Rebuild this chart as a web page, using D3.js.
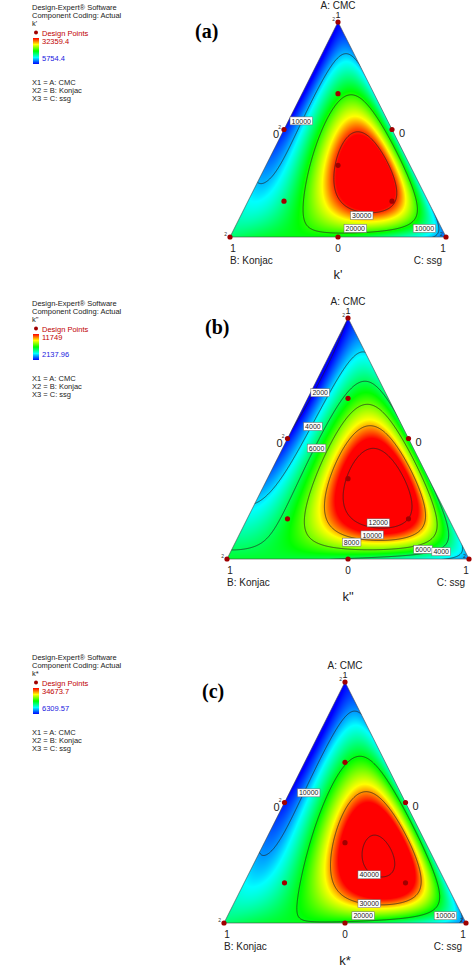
<!DOCTYPE html>
<html><head><meta charset="utf-8">
<script src="https://cdn.jsdelivr.net/npm/d3@7/dist/d3.min.js"></script>
<style>body{margin:0;background:#fff}svg{display:block}</style>
</head><body>
<script>
// panel names and response labels
var panelTags = ["(a)", "(b)", "(c)"];
var responseNames = ["k'", "k\"", "k*"];
var legendMax = ["32359.4", "11749", "34673.7"];
var legendMin = ["5754.4", "2137.96", "6309.57"];
var colorMin = [5754.4, 2137.96, 6309.57];
var colorMax = [32359.4, 11749, 34673.7];
// design points [A, B, C]
var designPts = [[1,0,0],[0,1,0],[0,0,1],[0.5,0.5,0],[0.5,0,0.5],[0,0.5,0.5],
  [2/3,1/6,1/6],[1/6,2/3,1/6],[1/6,1/6,2/3],[1/3,1/3,1/3]];
var replicated = [[1,0,0],[0,1,0],[0,0,1],[0.5,0.5,0]];
// response estimated at each design point (read from the colours)
var respA = [5754, 16000, 8000, 6500, 13000, 18000, 18000, 15000, 30500, 31500];
var respB = [2138, 6500, 3300, 2300, 6300, 5800, 6500, 6500, 11800, 12400];
var respC = [6310, 17000, 9000, 7000, 15000, 19000, 19500, 16000, 35500, 35000];
var contourLevels = [[10000, 20000, 30000], [2000, 4000, 6000, 8000, 10000, 12000], [10000, 20000, 30000, 40000]];
// label positions as barycentric [A, B, C]
var contourLabels = [
  [[10000, 0.54, 0.4, 0.06], [30000, 0.1, 0.34, 0.56], [20000, 0.04, 0.4, 0.56], [10000, 0.04, 0.08, 0.88]],
  [[2000, 0.69, 0.27, 0.04], [4000, 0.55, 0.37, 0.08], [6000, 0.46, 0.4, 0.14], [12000, 0.15, 0.3, 0.55], [10000, 0.1, 0.35, 0.55], [8000, 0.07, 0.45, 0.48], [6000, 0.04, 0.17, 0.79], [4000, 0.03, 0.1, 0.87]],
  [[10000, 0.54, 0.38, 0.08], [40000, 0.2, 0.3, 0.5], [30000, 0.08, 0.36, 0.56], [20000, 0.03, 0.41, 0.56], [10000, 0.03, 0.07, 0.9]]
];
// colour stop positions along the legend range
var stopPos = [0, 0.22, 0.5, 0.76, 0.94];
var stops = ["#0000ff", "#00ffff", "#00ff00", "#ffff00", "#ff0000"];

var layout = [
  {ax: 338, ay: 22, bx: 230, cx: 446, by: 237, ly: 0, resp: respA},
  {ax: 348, ay: 318, bx: 227, cx: 469, by: 559, ly: 296, resp: respB},
  {ax: 345, ay: 682, bx: 224, cx: 466, by: 923, ly: 650, resp: respC}
];

// special quartic Scheffe terms
function terms(a, b, c) {
  return [a, b, c, a*b, a*c, b*c, a*a*b*c, a*b*b*c, a*b*c*c];
}
function solve(M, y) {
  var n = y.length, A = M.map((r, i) => r.concat([y[i]]));
  for (var i = 0; i < n; i++) {
    var p = i;
    for (var r = i + 1; r < n; r++) if (Math.abs(A[r][i]) > Math.abs(A[p][i])) p = r;
    var t = A[i]; A[i] = A[p]; A[p] = t;
    for (var r = 0; r < n; r++) if (r !== i) {
      var f = A[r][i] / A[i][i];
      for (var k = i; k <= n; k++) A[r][k] -= f * A[i][k];
    }
  }
  return A.map((r, i) => r[n] / r[i]);
}
// least squares through the normal equations
function fit(X, y) {
  var m = X[0].length;
  var XtX = d3.range(m).map(i => d3.range(m).map(j => d3.sum(X, r => r[i] * r[j])));
  var Xty = d3.range(m).map(i => d3.sum(X, (r, n) => r[i] * y[n]));
  return solve(XtX, Xty);
}

var W = 474, H = 971;
var svg = d3.select("body").append("svg").attr("width", W).attr("height", H)
  .style("font-family", "'Liberation Sans', Arial, sans-serif");

layout.forEach(function(p, k) {
  var g = svg.append("g");
  var coef = fit(designPts.map(d => terms(d[0], d[1], d[2])), p.resp);
  var model = (a, b, c) => d3.sum(terms(a, b, c), (t, i) => t * coef[i]);
  var tw = p.cx - p.bx, th = p.by - p.ay;
  function toXY(a, b, c) { return [p.bx + (c + a / 2) * tw, p.by - a * th]; }
  function toBary(x, y) {
    var a = (p.by - y) / th;
    var c = (x - p.bx) / tw - a / 2;
    return [a, 1 - a - c, c];
  }
  var mn = colorMin[k], mx = colorMax[k];
  var col = d3.scaleLinear().domain(stopPos.map(f => mn + (mx - mn) * f)).range(stops).clamp(true);
  var x0 = p.bx, y0 = p.ay, gw = Math.ceil(tw) + 1, gh = Math.ceil(th) + 1;
  var canvas = document.createElement("canvas");
  canvas.width = gw; canvas.height = gh;
  var ctx = canvas.getContext("2d");
  var img = ctx.createImageData(gw, gh);
  var vals = new Float64Array(gw * gh);
  for (var j = 0; j < gh; j++) for (var i = 0; i < gw; i++) {
    var b = toBary(x0 + i, y0 + j);
    var v = model(b[0], b[1], b[2]);
    vals[j * gw + i] = v;
    var cc = d3.rgb(col(v));
    var o = (j * gw + i) * 4;
    img.data[o] = cc.r; img.data[o+1] = cc.g; img.data[o+2] = cc.b; img.data[o+3] = 255;
  }
  ctx.putImageData(img, 0, 0);
  var tri = [toXY(1,0,0), toXY(0,1,0), toXY(0,0,1)];
  var clipId = "clip" + k;
  svg.append("clipPath").attr("id", clipId).append("polygon").attr("points", tri.join(" "));
  var fld = g.append("g").attr("clip-path", "url(#" + clipId + ")");
  fld.append("image").attr("x", x0).attr("y", y0).attr("width", gw).attr("height", gh)
    .attr("preserveAspectRatio", "none").attr("href", canvas.toDataURL());
  var contours = d3.contours().size([gw, gh]).smooth(true).thresholds(contourLevels[k])(vals);
  fld.selectAll("path.c").data(contours).enter().append("path")
    .attr("d", d3.geoPath(d3.geoIdentity().translate([x0, y0])))
    .attr("fill", "none").attr("stroke", "#222").attr("stroke-width", 0.7);
  g.append("polygon").attr("points", tri.join(" ")).attr("fill", "none")
    .attr("stroke", "#444").attr("stroke-width", 0.6);
  contourLabels[k].forEach(function(l) {
    var xy = toXY(l[1], l[2], l[3]);
    var t = String(l[0]);
    var w = t.length * 3.9 + 3;
    g.append("rect").attr("x", xy[0] - w/2).attr("y", xy[1] - 4).attr("width", w).attr("height", 8)
      .attr("fill", "#fff").attr("stroke", "#666").attr("stroke-width", 0.5);
    g.append("text").attr("x", xy[0]).attr("y", xy[1] + 2.6).attr("text-anchor", "middle")
      .attr("font-size", 7).attr("fill", "#222").text(t);
  });
  g.selectAll("circle.d").data(designPts).enter().append("circle")
    .attr("cx", d => toXY(d[0], d[1], d[2])[0]).attr("cy", d => toXY(d[0], d[1], d[2])[1])
    .attr("r", 2.6).attr("fill", "#a00000");
  replicated.forEach(function(d) {
    var xy = toXY(d[0], d[1], d[2]);
    g.append("text").attr("x", xy[0] - 3).attr("y", xy[1] - 1).attr("text-anchor", "end")
      .attr("font-size", 5).attr("fill", "#333").text("2");
  });
  var fs = 10;
  function txt(x, y, s, anchor, size) {
    g.append("text").attr("x", x).attr("y", y).attr("text-anchor", anchor || "middle")
      .attr("font-size", size || fs).attr("fill", "#222").text(s);
  }
  txt(p.ax, p.ay - 13, "A: CMC");
  txt(p.ax, p.ay - 4, "1", "middle", 9);
  var lm = toXY(0.5, 0.5, 0), rm = toXY(0.5, 0, 0.5);
  txt(lm[0] - 5, lm[1] + 8, "0", "end", 11);
  txt(rm[0] + 7, rm[1] + 7, "0", "start", 11);
  txt(p.bx + 3, p.by + 15, "1");
  txt((p.bx + p.cx) / 2, p.by + 15, "0");
  txt(p.cx - 3, p.by + 15, "1");
  txt(p.bx, p.by + 27, "B: Konjac", "start");
  txt(p.cx - 4, p.by + 27, "C: ssg", "end");
  txt(p.ax, p.by + 42, responseNames[k], "middle", 13);
  g.append("text").attr("x", p.ax - 143).attr("y", p.ay + 16).attr("font-family", "'Liberation Serif', serif")
    .attr("font-weight", "bold").attr("font-size", 20).attr("fill", "#000").text(panelTags[k]);
  var ly = p.ly, lx = 32, lf = 7.5;
  function lt(y, s, c) {
    g.append("text").attr("x", lx).attr("y", y).attr("font-size", lf).attr("fill", c || "#222").text(s);
  }
  lt(ly + 10, "Design-Expert\u00ae Software");
  lt(ly + 18, "Component Coding: Actual");
  lt(ly + 26, responseNames[k]);
  g.append("circle").attr("cx", lx + 4).attr("cy", ly + 32.5).attr("r", 2).attr("fill", "#a00000");
  g.append("text").attr("x", lx + 10).attr("y", ly + 35.5).attr("font-size", lf).attr("fill", "#c00000").text("Design Points");
  var gid = "lg" + k;
  var lg = svg.append("defs").append("linearGradient").attr("id", gid)
    .attr("x1", 0).attr("y1", 1).attr("x2", 0).attr("y2", 0);
  stops.forEach(function(c, i) { lg.append("stop").attr("offset", i / 4).attr("stop-color", c); });
  g.append("rect").attr("x", lx + 1).attr("y", ly + 38).attr("width", 6).attr("height", 26)
    .attr("fill", "url(#" + gid + ")");
  g.append("text").attr("x", lx + 10).attr("y", ly + 44).attr("font-size", lf).attr("fill", "#c00000").text(legendMax[k]);
  g.append("text").attr("x", lx + 10).attr("y", ly + 61).attr("font-size", lf).attr("fill", "#2020e0").text(legendMin[k]);
  lt(ly + 85, "X1 = A: CMC");
  lt(ly + 93, "X2 = B: Konjac");
  lt(ly + 101, "X3 = C: ssg");
});
</script>
</body></html>
